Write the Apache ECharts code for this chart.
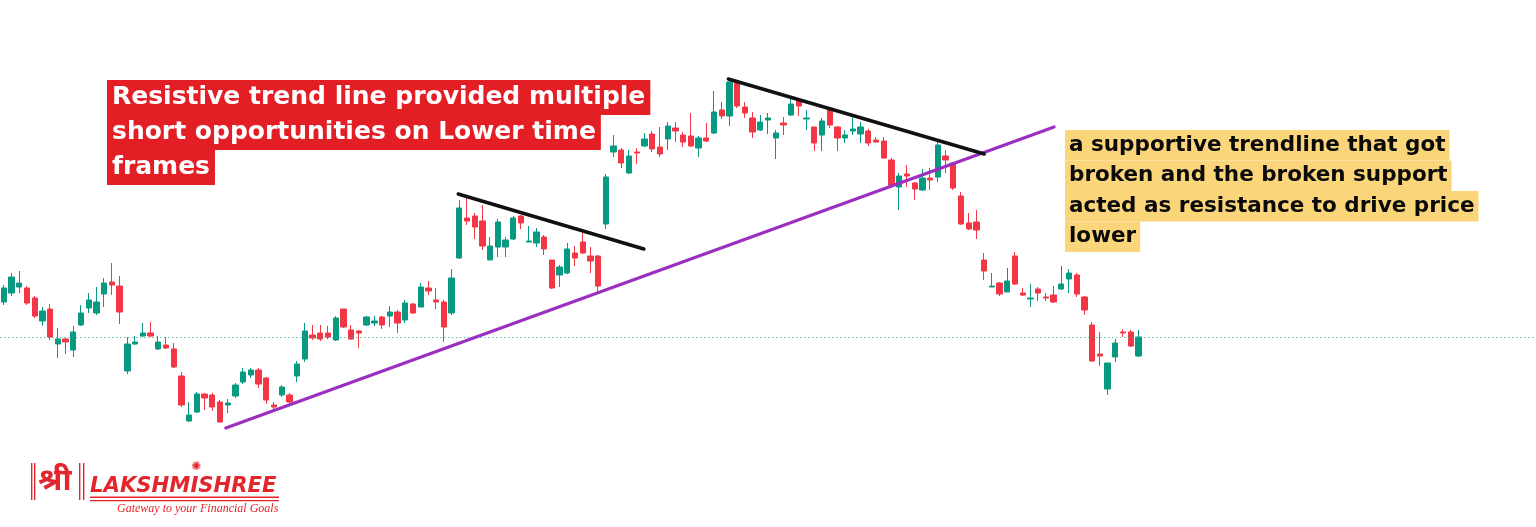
<!DOCTYPE html>
<html>
<head>
<meta charset="utf-8">
<script src="https://cdn.jsdelivr.net/npm/echarts@6/dist/echarts.min.js"></script>
<style>
html,body{margin:0;padding:0;background:#fff;}
#chart{width:1536px;height:527px;}
</style>
</head>
<body>
<div id="chart"></div>
<script>
// ---- data (price units) ----
// each row: [open, close, low, high]
const ohlc = [
[225,239,222,242],[234,250,231,254],[240,244,234,256],[239,224,222,241],[229,211,209,231],
[206,216,201,220],[218,190,187,223],[183,188,169,199],[188,185,173,189],[177,195,170,201],
[202,214,201,222],[219,227,214,234],[214,225,212,240],[233,244,220,249],[245,242,232,264],
[241,215,203,251],[156,183,153,190],[183,185,182,191],[191,194,190,204],[194,191,190,205],
[178,185,177,191],[182,179,178,190],[178,160,159,184],[151,122,120,155],[106,112,105,125],
[115,133,114,135],[133,129,117,134],[132,120,116,134],[125,105,104,127],[122,124,114,128],
[131,142,129,144],[145,155,143,159],[152,157,149,159],[157,143,139,159],[149,127,123,150],
[122,120,115,125],[132,140,130,142],[132,125,124,134],[151,163,145,166],[168,196,165,204],
[192,189,187,202],[194,188,186,202],[194,190,188,201],[187,209,186,211],[218,200,199,218],
[197,188,187,202],[196,194,179,197],[202,210,201,211],[204,206,201,211],[210,202,198,211],
[211,215,200,221],[215,204,194,217],[207,224,204,227],[223,214,213,224],[220,240,220,244],
[239,236,232,246],[227,225,218,239],[225,200,185,227],[214,249,212,258],[269,319,268,327],
[309,306,302,331],[311,300,288,314],[306,281,277,322],[267,281,267,290],[280,305,270,308],
[280,287,270,290],[288,309,287,311],[311,304,298,312],[285,286,285,301],[284,295,280,299],
[290,278,272,292],[267,239,238,267],[252,260,240,262],[254,278,253,284],[274,269,261,281],
[285,274,273,297],[271,266,254,280],[271,241,235,272],[303,350,298,353],[375,381,370,392],
[377,364,359,379],[354,371,353,377],[375,374,363,379],[381,388,380,394],[393,378,375,396],
[380,373,370,400],[388,401,377,405],[399,396,385,405],[392,385,380,395],[391,381,380,414],
[379,389,370,391],[389,386,385,404],[394,415,393,436],[417,411,408,425],[411,445,401,449],
[445,421,419,447],[420,414,409,425],[409,395,389,415],[397,405,396,412],[407,409,393,414],
[389,394,368,397],[404,402,392,410],[412,423,411,428],[426,421,411,429],[408,409,397,417],
[400,384,376,400],[392,406,376,409],[419,402,399,420],[400,389,376,401],[389,392,384,397],
[396,398,392,411],[393,400,384,405],[396,384,381,398],[387,385,384,390],[386,369,368,390],
[367,342,341,369],[340,351,317,354],[353,351,340,362],[344,338,327,345],[337,349,336,358],
[349,347,337,359],[350,382,345,385],[371,367,354,377],[364,339,337,364],[331,303,302,335],
[304,298,297,314],[305,297,288,317],[267,256,247,274],[240,241,240,254],[244,233,231,245],
[235,246,235,259],[271,243,242,275],[234,232,231,239],[228,229,220,243],[238,234,226,240],
[230,229,226,234],[232,225,224,241],[238,243,237,261],[248,254,234,258],[252,233,230,254],
[230,217,212,231],[202,166,165,205],[173,171,161,195],[138,164,132,164],[170,184,165,188],
[195,194,190,198],[195,181,180,197],[171,190,170,197]
];
const emptySessionsRight = 51;            // empty space to the right of the last candle
const categories = [];
for (let i = 0; i < ohlc.length + emptySessionsRight; i++) categories.push('Bar ' + (i + 1));

const referenceLevel = 190;                // dotted horizontal level
// trend lines: [barIndex, price]
const supportLine   = [[28.75, 99], [136.06, 400]];
const resistance1   = [[58.86, 333], [82.92, 278]];
const resistance2   = [[93.86, 448], [127.02, 373]];

const redNoteLines = ['Resistive trend line provided multiple', 'short opportunities on Lower time', 'frames'];
const yellowNoteLines = ['a supportive trendline that got', 'broken and the broken support', 'acted as resistance to drive price', 'lower'];

// ---- chart ----
const UP = '#089981', DOWN = '#f23645';
const step = 7.772;
const chart = echarts.init(document.getElementById('chart'), null, {renderer: 'canvas'});

const graphics = [];
redNoteLines.forEach((t, i) => {
  graphics.push({
    type: 'text', left: 107, top: 80 + i * 35, z: 100,
    style: {
      text: t, fill: '#ffffff', backgroundColor: '#e31e25',
      font: '700 25px "DejaVu Sans", sans-serif', padding: [3, 5, 3, 5], lineHeight: 29
    }
  });
});
yellowNoteLines.forEach((t, i) => {
  graphics.push({
    type: 'text', left: 1065, top: 130 + i * 30.5, z: 100,
    style: {
      text: t, fill: '#0a0a0a', backgroundColor: '#fad57a',
      font: '700 21.5px "DejaVu Sans", sans-serif', padding: [2, 4, 2, 4], lineHeight: 26.5
    }
  });
});
// logo
const logoRed = '#e3262b';
graphics.push(
  {type: 'rect', shape: {x: 31, y: 463, width: 1.4, height: 37}, style: {fill: logoRed}},
  {type: 'rect', shape: {x: 34, y: 463, width: 1.4, height: 37}, style: {fill: logoRed}},
  {type: 'rect', shape: {x: 79, y: 463, width: 1.4, height: 37}, style: {fill: logoRed}},
  {type: 'rect', shape: {x: 83, y: 463, width: 1.4, height: 37}, style: {fill: logoRed}},
  {type: 'text', left: 38, top: 469, style: {text: 'श्री', fill: logoRed, font: '700 31px "Noto Sans Devanagari", "Noto Sans", sans-serif'}},
  {type: 'text', left: 90, top: 476, style: {text: 'LAKSHMISHREE', fill: logoRed, font: 'italic 700 21.2px "DejaVu Sans", sans-serif'}},
  {type: 'text', left: 191, top: 461, style: {text: '✺', fill: logoRed, font: '12px "DejaVu Sans", sans-serif'}},
  {type: 'rect', shape: {x: 90, y: 496.5, width: 189, height: 1.6}, style: {fill: logoRed}},
  {type: 'rect', shape: {x: 90, y: 500, width: 189, height: 1.2}, style: {fill: logoRed}},
  {type: 'text', left: 117, top: 503, style: {text: 'Gateway to your Financial Goals', fill: logoRed, font: 'italic 12px "Liberation Serif", serif'}}
);

const gridLeft = -0.47 - step / 2;
const option = {
  animation: false,
  backgroundColor: '#ffffff',
  grid: {left: gridLeft, top: 0, width: step * categories.length, height: 527},
  xAxis: [
    {type: 'category', data: categories, boundaryGap: true, show: false},
    {type: 'value', min: -0.5, max: categories.length - 0.5, show: false}
  ],
  yAxis: {type: 'value', min: 0, max: 527, show: false},
  series: [
    {
      type: 'candlestick', data: ohlc, barWidth: 5.8,
      itemStyle: {color: UP, color0: DOWN, borderColor: UP, borderColor0: DOWN, borderWidth: 1},
      markLine: {
        silent: true, symbol: 'none', label: {show: false},
        lineStyle: {color: '#3fa593', type: [1.5, 2.5], width: 1, opacity: 0.75},
        data: [{yAxis: referenceLevel}]
      }
    },
    {type: 'line', xAxisIndex: 1, data: supportLine, symbol: 'none', z: 5,
     lineStyle: {color: '#9b2fbf', width: 3.2, cap: 'round'}},
    {type: 'line', xAxisIndex: 1, data: resistance1, symbol: 'none', z: 5,
     lineStyle: {color: '#111111', width: 3.4, cap: 'round'}},
    {type: 'line', xAxisIndex: 1, data: resistance2, symbol: 'none', z: 5,
     lineStyle: {color: '#111111', width: 3.4, cap: 'round'}}
  ],
  graphic: graphics
};
chart.setOption(option);
</script>
</body>
</html>
